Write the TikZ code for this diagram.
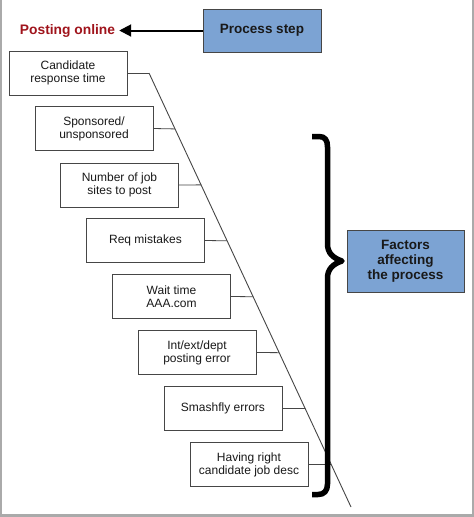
\documentclass[tikz,border=0pt]{standalone}
\usepackage{fontspec}
\setmainfont{Liberation Sans}
\usetikzlibrary{arrows.meta,calc}
\definecolor{stepblue}{RGB}{124,163,211}
\definecolor{postred}{RGB}{160,20,28}
\definecolor{framegray}{RGB}{170,170,170}
\definecolor{boxline}{RGB}{70,70,70}
\begin{document}
\begin{tikzpicture}[x=1pt,y=-1pt,
  factorbox/.style={draw=boxline,line width=0.9pt,fill=white,minimum width=118pt,minimum height=44pt,
    inner sep=2pt,align=center,font=\fontsize{12}{13}\selectfont,text=black!90},
  bluebox/.style={draw=boxline,line width=1pt,fill=stepblue,inner sep=2pt,align=center,
    font=\fontsize{13.5}{15}\selectfont\bfseries,text=black!90},
  tie/.style={draw=boxline,line width=0.8pt}]
\useasboundingbox (0,0) rectangle (474,517);
\fill[white] (0,0) rectangle (474,517);
% frame
\draw[framegray,line width=2pt] (1,0) -- (1,515.5);
\draw[framegray,line width=2pt] (473,0) -- (473,515.5);
\draw[framegray,line width=3pt] (0,515.5) -- (474,515.5);
% title row
\node[bluebox,minimum width=118pt,minimum height=43pt] (ps) at (262,30.5) {Process step};
\node[font=\fontsize{13.8}{15}\selectfont\bfseries,text=postred,inner sep=4pt] (po) at (67.5,30.5) {Posting online};
\draw[line width=2pt,-{Triangle[length=12pt,width=12pt]}] (ps.west) -- (po.east);
% diagonal spine
\coordinate (top) at (149,73);
\coordinate (bot) at (351,507);
\draw[boxline,line width=0.9pt] (top) -- (bot);
% factor boxes
\node[factorbox] (b1) at (68,73) {Candidate\\response time};
\node[factorbox] (b2) at (94,128.5) {Sponsored/\\unsponsored};
\node[factorbox] (b3) at (119.5,185) {Number of job\\sites to post};
\node[factorbox] (b4) at (145.5,240.5) {Req mistakes};
\node[factorbox] (b5) at (171.5,296.5) {Wait time\\AAA.com};
\node[factorbox] (b6) at (197,352.5) {Int/ext/dept\\posting error};
\node[factorbox] (b7) at (223,408.5) {Smashfly errors};
\node[factorbox] (b8) at (249,464.5) {Having right\\candidate job desc};
% ties to the spine
\foreach \i in {1,...,8}{
  \coordinate (c\i) at ($(top)!{0.12887*(\i-1)}!(bot)$);
  \draw[tie] (b\i.east) -- (c\i);
}
% brace
\draw[line width=5.5pt,line cap=butt,line join=round]
  (312,136.5) -- (319,136.5)
  .. controls (325,136.5) and (327.5,140) .. (327.5,147)
  -- (327.5,244)
  .. controls (327.5,253) and (333,258) .. (342,261)
  .. controls (333,264) and (327.5,269) .. (327.5,278)
  -- (327.5,484)
  .. controls (327.5,491) and (324,494.5) .. (318,494.5)
  -- (312,494.5);
% factors box
\node[bluebox,minimum width=117pt,minimum height=62pt] (fa) at (405.5,261) {Factors\\affecting\\the process};
\end{tikzpicture}
\end{document}
